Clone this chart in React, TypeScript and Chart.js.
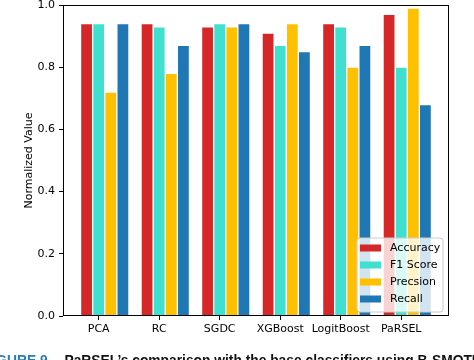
import React, { useEffect, useRef } from "react";
import { Chart, registerables } from "chart.js";

Chart.register(...registerables);

const categories = ["PCA", "RC", "SGDC", "XGBoost", "LogitBoost", "PaRSEL"];
const seriesNames = ["Accuracy", "F1 Score", "Precsion", "Recall"];
const accuracy = [0.94, 0.94, 0.93, 0.91, 0.94, 0.97];
const f1Score = [0.94, 0.93, 0.94, 0.87, 0.93, 0.8];
const precision = [0.72, 0.78, 0.93, 0.94, 0.8, 0.99];
const recall = [0.94, 0.87, 0.94, 0.85, 0.87, 0.68];
const yTicks = [0, 0.2, 0.4, 0.6, 0.8, 1.0];

const seriesValues = [accuracy, f1Score, precision, recall];
const seriesColors = ["#d62728", "#40e0d0", "#ffc000", "#1f77b4"];
const barOffsets = [-0.2, 0, 0.2, 0.4];

const FONT = "'DejaVu Sans', sans-serif";
const FS = 11;

const framePlugin = {
  id: "frameBox",
  afterDatasetsDraw(chart: any) {
    const { ctx, chartArea } = chart;
    const l = Math.round(chartArea.left) + 0.5;
    const r = Math.round(chartArea.right) - 0.5;
    const t = Math.round(chartArea.top) + 0.5;
    const b = Math.round(chartArea.bottom) - 0.5;
    ctx.save();
    ctx.strokeStyle = "#000";
    ctx.lineWidth = 1;
    ctx.strokeRect(l, t, r - l, b - t);
    ctx.restore();
  },
};

const legendPlugin = {
  id: "boxLegend",
  afterDatasetsDraw(chart: any) {
    const { ctx, chartArea } = chart;
    const w = 86;
    const h = 74;
    const right = chartArea.right - 6;
    const bottom = chartArea.bottom - 4;
    const left = right - w;
    const top = bottom - h;
    ctx.save();
    ctx.beginPath();
    const rad = 3;
    ctx.moveTo(left + rad, top);
    ctx.lineTo(right - rad, top);
    ctx.quadraticCurveTo(right, top, right, top + rad);
    ctx.lineTo(right, bottom - rad);
    ctx.quadraticCurveTo(right, bottom, right - rad, bottom);
    ctx.lineTo(left + rad, bottom);
    ctx.quadraticCurveTo(left, bottom, left, bottom - rad);
    ctx.lineTo(left, top + rad);
    ctx.quadraticCurveTo(left, top, left + rad, top);
    ctx.closePath();
    ctx.fillStyle = "rgba(255,255,255,0.8)";
    ctx.fill();
    ctx.strokeStyle = "#cccccc";
    ctx.lineWidth = 1;
    ctx.stroke();
    ctx.font = `${FS}px ${FONT}`;
    ctx.textBaseline = "middle";
    ctx.textAlign = "left";
    chart.data.datasets.forEach((ds: any, i: number) => {
      const cy = top + 10 + i * 17;
      ctx.fillStyle = ds.backgroundColor;
      ctx.fillRect(left + 3, cy - 3.5, 21, 7);
      ctx.fillStyle = "#000";
      ctx.fillText(ds.label, left + 33, cy + 0.5);
    });
    ctx.restore();
  },
};

export default function App() {
  const ref = useRef<HTMLCanvasElement>(null);

  useEffect(() => {
    if (!ref.current) return;
    const datasets = seriesNames.map((name, s) => ({
      label: name,
      data: seriesValues[s].map((v, i) => ({ x: i + barOffsets[s], y: v })),
      backgroundColor: seriesColors[s],
      borderColor: "#ffffff",
      borderWidth: 1,
      grouped: false,
      barPercentage: 1,
      categoryPercentage: 1,
    }));
    const chart = new Chart(ref.current, {
      type: "bar",
      data: { datasets },
      plugins: [framePlugin, legendPlugin],
      options: {
        animation: false,
        responsive: false,
        layout: { padding: { top: 5, right: 25, left: 0, bottom: 0 } },
        plugins: {
          legend: { display: false },
          tooltip: { enabled: false },
        },
        scales: {
          x: {
            type: "linear",
            min: -0.59,
            max: 5.79,
            offset: false,
            grid: {
              display: true,
              offset: false,
              drawOnChartArea: false,
              drawTicks: true,
              tickLength: 4,
              color: "#000",
            },
            border: { display: false },
            afterBuildTicks: (scale: any) => {
              scale.ticks = categories.map((_, i) => ({ value: i }));
            },
            afterFit: (scale: any) => {
              scale.height = 44;
              scale.paddingLeft = 0;
              scale.paddingRight = 0;
            },
            ticks: {
              autoSkip: false,
              maxRotation: 0,
              padding: 3,
              color: "#000",
              font: { family: FONT, size: FS },
              callback: (v: any) => categories[Math.round(Number(v))] ?? "",
            },
          },
          y: {
            min: 0,
            max: 1,
            grid: {
              display: true,
              drawOnChartArea: false,
              drawTicks: true,
              tickLength: 4,
              color: "#000",
            },
            border: { display: false },
            afterBuildTicks: (scale: any) => {
              scale.ticks = yTicks.map((v) => ({ value: v }));
            },
            afterFit: (scale: any) => {
              scale.width = 63;
              scale.paddingTop = 0;
              scale.paddingBottom = 0;
            },
            ticks: {
              padding: 4,
              color: "#000",
              font: { family: FONT, size: FS },
              callback: (v: any) => Number(v).toFixed(1),
            },
            title: {
              display: true,
              text: "Normalized Value",
              color: "#000",
              font: { family: FONT, size: FS },
              padding: { top: 22.5, bottom: 0 },
            },
          },
        },
      },
    });
    return () => chart.destroy();
  }, []);

  return (
    <div
      style={{
        position: "fixed",
        left: 0,
        top: 0,
        width: 474,
        height: 360,
        overflow: "hidden",
        background: "#fff",
      }}
    >
      <canvas
        ref={ref}
        width={474}
        height={360}
        style={{ position: "absolute", left: 0, top: 0, width: 474, height: 360 }}
      />
      <div
        style={{
          position: "absolute",
          left: -16,
          top: 354,
          whiteSpace: "nowrap",
          fontFamily: "'Liberation Sans', Arial, sans-serif",
          fontWeight: "bold",
          fontSize: 13.8,
          lineHeight: "13.8px",
          color: "#111",
        }}
      >
        <span style={{ color: "#2b7bb9" }}>FIGURE 9.</span>
        <span style={{ marginLeft: 13 }}>
          PaRSEL’s comparison with the base classifiers using B-SMOTE
        </span>
      </div>
    </div>
  );
}
